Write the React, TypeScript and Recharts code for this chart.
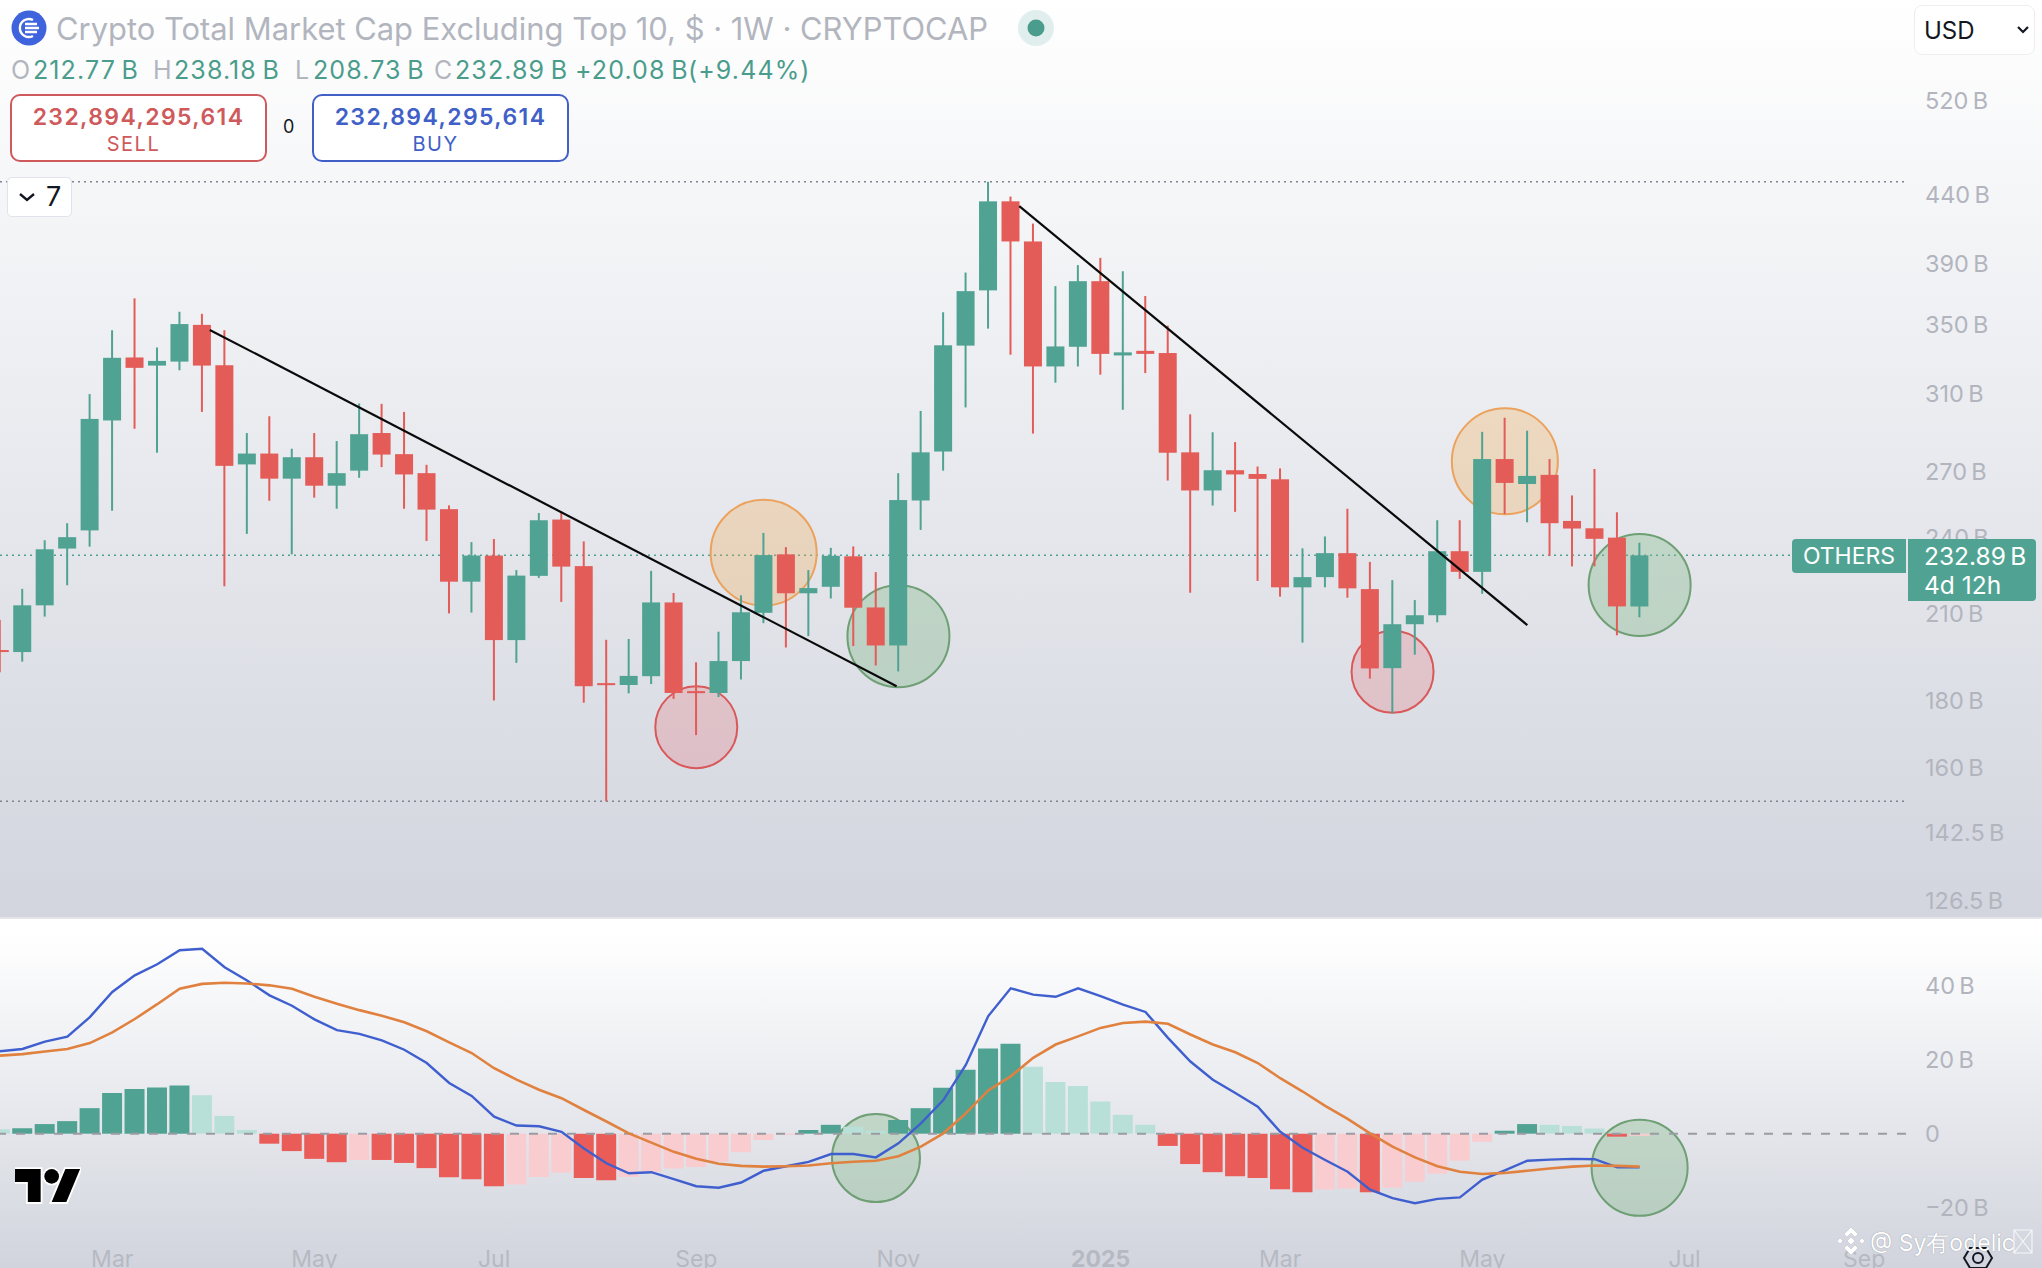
import React from 'react';
import { ComposedChart, Bar, Line, Cell, XAxis, YAxis, ReferenceLine, ReferenceDot } from 'recharts';

const teal = '#50a393';
const red = '#e35c58';
const font = 'Inter, "Noto Sans", sans-serif';

// weekly candles, values in billions of USD
const opens = [197.0,196.3,213.2,235.7,243.4,295.6,330.4,325.7,328.0,350.0,325.9,273.5,278.8,266.7,277.0,263.4,270.5,289.1,278.5,269.3,252.7,222.3,232.8,200.5,224.6,248.1,228.5,185.8,185.2,188.1,214.3,183.2,182.6,193.2,210.4,233.3,217.8,220.3,232.5,212.4,198.6,256.6,279.8,337.4,372.0,435.4,405.6,325.2,336.7,378.1,331.6,334.3,333.0,279.4,261.2,270.7,268.9,266.4,220.1,224.1,233.8,219.4,190.8,206.2,209.5,234.6,226.2,276.1,264.2,268.5,247.5,244.3,240.3,212.77];
const highs = [207.8,219.5,239.2,246.5,309.7,346.7,366.8,336.3,358.2,356.9,346.7,289.1,297.8,281.2,289.1,285.0,304.6,304.4,300.1,273.3,254.4,238.4,239.7,226.9,251.0,251.7,238.7,200.6,200.9,226.6,217.9,192.8,203.5,217.0,242.3,236.3,226.9,236.0,236.6,226.1,269.3,300.6,357.9,383.9,450.7,439.1,418.6,374.8,389.0,394.0,384.8,368.3,349.5,298.8,289.5,284.5,272.5,271.6,235.8,240.8,252.9,230.2,222.9,215.2,247.8,247.8,289.7,297.0,290.3,276.1,258.9,271.3,251.3,238.18];
const lows = [189.4,193.0,209.0,220.9,236.5,252.0,291.3,279.2,323.0,300.1,220.5,241.9,256.5,233.3,257.9,252.9,267.1,272.2,252.9,238.9,210.2,210.5,180.2,192.6,223.8,214.5,179.5,150.8,182.5,185.5,180.7,169.5,181.3,187.0,206.6,197.9,201.9,215.8,198.4,191.7,189.7,243.6,270.5,302.5,347.7,332.0,288.8,316.0,325.2,320.5,301.2,321.4,265.8,218.0,254.3,251.5,222.6,216.5,199.6,220.1,216.1,187.3,176.2,195.4,206.9,223.4,217.6,250.5,246.9,232.6,228.4,228.4,202.2,208.73];
const closes = [196.3,213.2,235.4,240.5,296.4,330.2,324.4,328.4,350.5,325.7,272.8,278.8,266.7,277.0,263.4,269.3,288.5,278.3,268.7,252.5,222.3,232.8,200.5,224.7,247.8,228.3,184.8,185.2,188.2,214.3,182.6,182.6,193.2,210.6,233.0,217.8,219.8,232.7,212.3,198.6,256.8,279.4,337.6,371.5,435.4,405.6,325.2,336.9,378.1,332.5,333.4,332.5,279.2,261.2,270.7,268.7,266.6,220.1,224.1,233.8,219.7,190.7,206.2,209.5,234.6,226.2,276.1,264.7,268.0,246.5,244.2,239.8,212.8,232.89];

// MACD pane, billions
const histValues = [1.2,1.5,2.6,3.4,6.9,11,12.1,12.5,13,10.4,4.8,1,-2.7,-4.7,-6.8,-7.7,-7.1,-7.1,-7.9,-9.3,-11.8,-12.3,-14.2,-13.7,-11.7,-10.5,-12,-12.6,-11.7,-10.3,-9.4,-9,-7.6,-5,-1.7,-0.3,1,2.4,1.9,0.8,3.7,6.9,12.4,17.3,23,24.3,18.1,14,12.9,8.7,5.1,2.4,-3.3,-8.2,-10.4,-11.5,-12,-15,-15.8,-15.1,-14.8,-15.8,-14.6,-13,-10.8,-7.3,-2.2,0.8,2.6,2.4,2.1,1.4,-0.8,-0.6];
const histFaded = [0,9,10,11,16,23,24,25,28,29,30,31,32,33,34,35,38,39,46,47,48,49,50,51,59,60,62,63,64,65,66,69,70,71,73];
const macdLine = [22.3,22.9,24.9,26.2,31.5,38.3,42.8,45.8,49.6,50,45,41.4,37.4,34.6,30.9,28,27,25.2,22.7,19.1,13.7,10.2,4.6,2.2,2,0.5,-4,-8,-10.7,-10.4,-12.3,-14.2,-14.6,-13.2,-10,-8.8,-7.6,-5.5,-5.5,-6.4,-2.6,2.8,9.1,18.6,31.8,39.3,37.6,37,39.3,37.2,34.9,32.9,25.9,19.5,14.6,11,7.3,0.5,-3.8,-7.1,-10.3,-15.1,-17.4,-18.8,-17.6,-17.2,-12.4,-9.9,-7.3,-7,-6.8,-6.9,-9.1,-9.1];
const signalLine = [21.1,21.5,22.2,22.9,24.5,27.4,31,35,39.2,40.5,40.8,40.6,40.1,39.2,37,35.1,33.4,31.9,30.1,27.7,24.7,21.8,17.7,14.6,11.9,9.6,6.4,3.3,0.1,-2.4,-4.9,-6.8,-8.1,-8.7,-8.9,-8.8,-8.6,-8,-7.6,-7.3,-6.1,-3.5,0.1,5.5,11.7,15.5,20.5,24.1,26.3,28.6,29.9,30.3,29.7,26.8,24.1,22,19.1,15,11.4,7.5,4,0.1,-3.5,-6.4,-8.8,-10.3,-10.9,-10.6,-10,-9.4,-8.9,-8.6,-8.7,-8.9];

const priceTicks = [126.5,142.5,160,180,210,240,270,310,350,390,440,520];
const macdTicks = [-20,0,20,40];
const monthTicks = [5,14,22,31,40,49,57,66,75,83];
const monthLabels = ['Mar','May','Jul','Sep','Nov','2025','Mar','May','Jul','Sep'];

const priceLevels = [450.7,150.8];
const lastPrice = 232.89;
// [candle index, value, kind]
const priceCircles = [
  [31,171.9,'red'],
  [34,234,'orange'],
  [40,201.9,'green'],
  [62,189.6,'red'],
  [67,275,'orange'],
  [73,221,'green'],
];
const macdCircles = [[39,-6.6],[73,-9.2]];
const trendLines = [
  [9.34,346.9,39.92,184.8],
  [45.38,431.7,68,205.9],
];

const circleStyle: any = {
  red: { r: 41, stroke: '#d9595a', fill: '#ee5a62', fillOpacity: 0.22 },
  orange: { r: 53, stroke: '#eba25c', fill: '#f6a545', fillOpacity: 0.28 },
  green: { r: 51, stroke: '#6f9f74', fill: '#7db883', fillOpacity: 0.35 },
};

const candles = opens.map((open, i) => ({
  i,
  open,
  close: closes[i],
  high: highs[i],
  low: lows[i],
  range: [lows[i], highs[i]],
}));
const macdData = histValues.map((hist, i) => ({ i, hist, macd: macdLine[i], signal: signalLine[i] }));

const xDomain = [0, 84.86];
const priceDomain = [122.9, 621.5];
const macdDomain = [-28.19, 57.76];
const noMargin = { top: 0, right: 0, bottom: 0, left: 0 };

function Candle(props: any) {
  const { x, y, width, height, payload } = props;
  const { open, close, high, low } = payload;
  // the bar spans low..high on a log axis, so the body is placed the same way
  const pos = (v: number) => y + (height * Math.log(high / v)) / Math.log(high / low);
  const color = close >= open ? teal : red;
  const top = pos(Math.max(open, close));
  const bottom = pos(Math.min(open, close));
  return (
    <g>
      <rect x={x + width / 2 - 1} y={y} width={2} height={height} fill={color} />
      <rect x={x} y={top} width={width} height={Math.max(bottom - top, 2)} fill={color} />
    </g>
  );
}

function MonthTick(props: any) {
  const { x, payload } = props;
  const label = monthLabels[monthTicks.indexOf(payload.value)];
  return (
    <text x={x} y={347} textAnchor="middle" fontFamily={font} fontSize={23} fontWeight={label === '2025' ? 700 : 400} fill="#b6b9c2">
      {label}
    </text>
  );
}

function PriceTick(props: any) {
  const { x, y, payload } = props;
  const v = payload.value;
  const label = v === 0 ? '0' : `${v < 0 ? '\u2212' + -v : v}\u2009B`;
  return (
    <text x={x + 11} y={y + 8} fontFamily={font} fontSize={23.5} fill="#b2b5be">
      {label}
    </text>
  );
}

function TvLogo() {
  return (
    <svg width={66} height={39} viewBox="0 0 36 21" style={{ position: 'absolute', left: 15, top: 1167 }}>
      <g fill="#000" stroke="#fff" strokeWidth={2} paintOrder="stroke">
        <path d="M14 19H7V8H0V1h14v18z" />
        <path d="M28 19h-8l7.5-18h8L28 19z" />
        <circle cx={20} cy={5} r={4} />
      </g>
    </svg>
  );
}

const absolute = (left: number, top: number): React.CSSProperties => ({ position: 'absolute', left, top, whiteSpace: 'nowrap' });

function OrderButton({ left, color, side }: { left: number; color: string; side: string }) {
  return (
    <div style={{ ...absolute(left, 94), width: 257, height: 68, boxSizing: 'border-box', border: `2px solid ${color}`, borderRadius: 10, background: '#fff', color, textAlign: 'center' }}>
      <div style={{ fontSize: 23, fontWeight: 600, lineHeight: '30px', marginTop: 6, letterSpacing: 1.4 }}>232,894,295,614</div>
      <div style={{ fontSize: 20, lineHeight: '24px', letterSpacing: 1.5, marginRight: 10 }}>{side}</div>
    </div>
  );
}

function LegendValue({ left, label, value }: { left: number; label?: string; value: string }) {
  return (
    <span style={{ ...absolute(left, 54), fontSize: 25, lineHeight: '32px', letterSpacing: 1.1, color: label ? '#b2b5be' : '#4a9c8c' }}>
      {label || value}
    </span>
  );
}

function Watermark() {
  return (
    <>
      <svg width={34} height={22} style={{ position: 'absolute', left: 1961, top: 1247 }}>
        <path d="M3 11L9 1h16l6 10-6 10H9z" fill="none" stroke="#131722" strokeWidth={2} />
        <circle cx={17} cy={11} r={5} fill="none" stroke="#131722" strokeWidth={2} />
      </svg>
      <svg width={30} height={28} viewBox="0 0 30 28" style={{ position: 'absolute', left: 1836, top: 1227 }}>
        <g fill="#fff" stroke="#b9bcc5" strokeWidth={0.5}>
          <path d="M15 0l7 7-3 3-4-4-4 4-3-3z" />
          <path d="M15 28l7-7-3-3-4 4-4-4-3 3z" />
          <path d="M15 10l4 4-4 4-4-4z" />
          <path d="M4 11l3 3-3 3-3-3z" />
          <path d="M26 11l3 3-3 3-3-3z" />
        </g>
      </svg>
      <div style={{ ...absolute(1870, 1227), fontSize: 23, lineHeight: '32px', color: '#ffffff', textShadow: '0 0 1px rgba(90,95,110,.7)' }}>
        @ Sy有odelic
      </div>
      <svg width={20} height={25} style={{ position: 'absolute', left: 2013, top: 1229 }}>
        <path d="M1 1h18v23H1zM1 1l18 23M19 1L1 24" fill="none" stroke="#f6f6f8" strokeWidth={1.2} />
      </svg>
    </>
  );
}

export default function App() {
  return (
    <div style={{ position: 'absolute', left: 0, top: 0, width: 2042, height: 1268, overflow: 'hidden', fontFamily: font, background: '#fff' }}>
      <div style={{ position: 'absolute', left: 0, top: 0, width: 2042, height: 917, background: 'linear-gradient(#ffffff, #d2d5de)' }} />
      <div style={{ position: 'absolute', left: 0, top: 917, width: 2042, height: 2, background: '#e3e5ea' }} />
      <div style={{ position: 'absolute', left: 0, top: 920, width: 2042, height: 348, background: 'linear-gradient(#ffffff 4%, #d1d4dd)' }} />

      {/* circles and level lines sit under the candles, so they get their own layer */}
      <div style={{ position: 'absolute', left: 0, top: 0 }}>
        <ComposedChart width={2042} height={917} data={candles} margin={{ ...noMargin, right: 136 }}>
          <XAxis dataKey="i" type="number" domain={xDomain} hide allowDataOverflow />
          <YAxis scale="log" domain={priceDomain} hide allowDataOverflow />
          {priceLevels.map((v) => (
            <ReferenceLine key={v} y={v} stroke="#7f8590" strokeDasharray="2 4" strokeWidth={1.5} />
          ))}
          <ReferenceLine y={lastPrice} stroke={teal} strokeDasharray="2 4" strokeWidth={1.5} />
          {priceCircles.map(([x, y, kind]: any) => (
            <ReferenceDot key={x} x={x} y={y} {...circleStyle[kind]} strokeWidth={2} ifOverflow="visible" />
          ))}
        </ComposedChart>
      </div>

      <div style={{ position: 'absolute', left: 0, top: 0 }}>
        <ComposedChart width={2042} height={917} data={candles} margin={noMargin}>
          <XAxis dataKey="i" type="number" domain={xDomain} hide allowDataOverflow />
          <YAxis
            orientation="right"
            width={136}
            scale="log"
            domain={priceDomain}
            ticks={priceTicks}
            interval={0}
            axisLine={false}
            tickLine={false}
            allowDataOverflow
            tick={<PriceTick />}
          />
          {trendLines.map(([x1, y1, x2, y2]) => (
            <ReferenceLine key={x1} segment={[{ x: x1, y: y1 }, { x: x2, y: y2 }]} stroke="#0a0a0a" strokeWidth={2.2} ifOverflow="visible" />
          ))}
          <Bar dataKey="range" barSize={18} shape={<Candle />} isAnimationActive={false} />
        </ComposedChart>
      </div>

      <div style={{ position: 'absolute', left: 0, top: 920 }}>
        <ComposedChart width={2042} height={348} data={macdData} margin={{ ...noMargin, right: 136, bottom: 30 }}>
          <XAxis dataKey="i" type="number" domain={xDomain} hide allowDataOverflow />
          <YAxis domain={macdDomain} hide allowDataOverflow />
          {macdCircles.map(([x, y]) => (
            <ReferenceDot key={x} x={x} y={y} r={x === 39 ? 44 : 48} stroke="#6f9f74" fill="#7db883" fillOpacity={0.35} strokeWidth={2} ifOverflow="visible" />
          ))}
        </ComposedChart>
      </div>

      <div style={{ position: 'absolute', left: 0, top: 920 }}>
        <ComposedChart width={2042} height={348} data={macdData} margin={noMargin}>
          <XAxis
            dataKey="i"
            type="number"
            domain={xDomain}
            ticks={monthTicks}
            interval={0}
            height={30}
            axisLine={false}
            tickLine={false}
            allowDataOverflow
            tick={<MonthTick />}
          />
          <YAxis
            orientation="right"
            width={136}
            domain={macdDomain}
            ticks={macdTicks}
            interval={0}
            axisLine={false}
            tickLine={false}
            allowDataOverflow
            tick={<PriceTick />}
          />
          <Bar dataKey="hist" barSize={20} isAnimationActive={false}>
            {macdData.map((d) => {
              const faded = histFaded.includes(d.i);
              const fill = d.hist >= 0 ? (faded ? '#b9e0d8' : teal) : faded ? '#f9ccd0' : '#ea5c58';
              return <Cell key={d.i} fill={fill} />;
            })}
          </Bar>
          <ReferenceLine y={0} stroke="#9a9ca3" strokeDasharray="9 10" strokeWidth={2} />
          <Line dataKey="macd" stroke="#3f5fcf" strokeWidth={2.4} dot={false} isAnimationActive={false} />
          <Line dataKey="signal" stroke="#e0813f" strokeWidth={2.6} dot={false} isAnimationActive={false} />
        </ComposedChart>
      </div>

      {/* legend and order buttons */}
      <svg width={36} height={36} style={{ position: 'absolute', left: 11, top: 10 }}>
        <circle cx={18} cy={18} r={17.5} fill="#3e63dd" />
        <path d="M22 10a9 9 0 1 0 0 16M14 14h12M14 18h14M14 22h12" fill="none" stroke="#fff" strokeWidth={2.4} />
      </svg>
      <div style={{ ...absolute(56, 10), fontSize: 30.9, lineHeight: '38px', color: '#b2b5be' }}>
        Crypto Total Market Cap Excluding Top 10, $ · 1W · CRYPTOCAP
      </div>
      <svg width={38} height={38} style={{ position: 'absolute', left: 1017, top: 9 }}>
        <circle cx={19} cy={19} r={18} fill="#e1eeee" />
        <circle cx={19} cy={19} r={8.5} fill="#4a9c8c" />
      </svg>
      <LegendValue left={11} label="O" value="" />
      <LegendValue left={33} value={'212.77\u2009B'} />
      <LegendValue left={153} label="H" value="" />
      <LegendValue left={174} value={'238.18\u2009B'} />
      <LegendValue left={295} label="L" value="" />
      <LegendValue left={313} value={'208.73\u2009B'} />
      <LegendValue left={434} label="C" value="" />
      <LegendValue left={455} value={'232.89\u2009B'} />
      <LegendValue left={575} value={'+20.08\u2009B'} />
      <LegendValue left={688} value="(+9.44%)" />
      <OrderButton left={10} color="#cf5a5c" side="SELL" />
      <div style={{ ...absolute(283, 116), fontSize: 18, color: '#131722' }}>0</div>
      <OrderButton left={312} color="#4060c8" side="BUY" />
      <div style={{ ...absolute(7, 177), width: 65, height: 40, boxSizing: 'border-box', border: '1px solid #e0e3eb', borderRadius: 5, background: '#fff', color: '#131722', fontSize: 27, lineHeight: '38px', paddingLeft: 38 }}>
        7
      </div>
      <svg width={18} height={10} style={{ position: 'absolute', left: 18, top: 192 }}>
        <path d="M2 2l7 6 7-6" fill="none" stroke="#131722" strokeWidth={2.4} />
      </svg>
      <div style={{ ...absolute(1914, 5), width: 121, height: 50, boxSizing: 'border-box', border: '1px solid #eceef2', borderRadius: 8, background: '#fff', color: '#131722', fontSize: 24, lineHeight: '50px', paddingLeft: 9 }}>
        USD
      </div>
      <svg width={12} height={8} style={{ position: 'absolute', left: 2017, top: 26 }}>
        <path d="M1 1l5 5 5-5" fill="none" stroke="#131722" strokeWidth={2.2} />
      </svg>

      {/* last price label */}
      <div style={{ ...absolute(1792, 539), width: 114, height: 34, background: teal, borderRadius: '4px 0 0 4px', color: '#fff', fontSize: 23, lineHeight: '34px', textAlign: 'center' }}>
        OTHERS
      </div>
      <div style={{ ...absolute(1908, 539), width: 128, height: 62, background: teal, borderRadius: '0 4px 4px 0', color: '#fff', fontSize: 24.5, lineHeight: '29px', padding: '3px 0 0 16px', boxSizing: 'border-box' }}>
        232.89{'\u2009'}B
        <br />
        4d 12h
      </div>

      <TvLogo />
      <Watermark />
    </div>
  );
}
